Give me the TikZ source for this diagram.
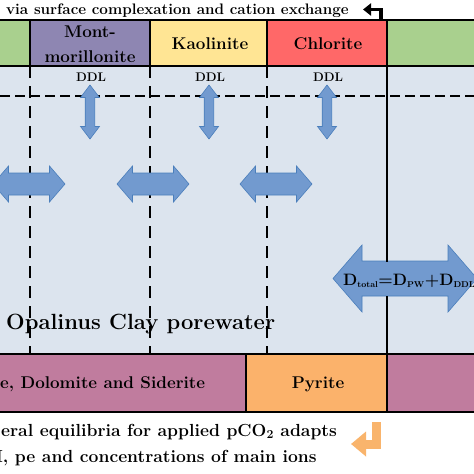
\documentclass[tikz,border=0pt]{standalone}
\usepackage{fontspec}
\usetikzlibrary{arrows.meta}
\definecolor{mgreen}{HTML}{A9D08E}
\definecolor{mpurple}{HTML}{8E86B2}
\definecolor{myellow}{HTML}{FFE594}
\definecolor{mred}{HTML}{FF6868}
\definecolor{bgblue}{HTML}{DCE4EE}
\definecolor{arrfill}{HTML}{729ACF}
\definecolor{arredge}{HTML}{4A7EBB}
\definecolor{mpink}{HTML}{C07C9E}
\definecolor{morange}{HTML}{FBB26B}
\definecolor{arrorange}{HTML}{F9B46C}
\newcommand\HDArrow[6]{% cx, cy, halflen, shafthalf, headhalf, headlen
  \filldraw[blarrow] ({#1-#3},#2) -- ({#1-#3+#6},{#2-#5}) -- ({#1-#3+#6},{#2-#4})
    -- ({#1+#3-#6},{#2-#4}) -- ({#1+#3-#6},{#2-#5}) -- ({#1+#3},#2)
    -- ({#1+#3-#6},{#2+#5}) -- ({#1+#3-#6},{#2+#4}) -- ({#1-#3+#6},{#2+#4})
    -- ({#1-#3+#6},{#2+#5}) -- cycle;}
\newcommand\VDArrow[6]{% cx, cy, halflen, shafthalf, headhalf, headlen
  \filldraw[blarrow] (#1,{#2-#3}) -- ({#1+#5},{#2-#3+#6}) -- ({#1+#4},{#2-#3+#6})
    -- ({#1+#4},{#2+#3-#6}) -- ({#1+#5},{#2+#3-#6}) -- (#1,{#2+#3})
    -- ({#1-#5},{#2+#3-#6}) -- ({#1-#4},{#2+#3-#6}) -- ({#1-#4},{#2-#3+#6})
    -- ({#1-#5},{#2-#3+#6}) -- cycle;}
\begin{document}
\begin{tikzpicture}[x=1pt,y=-1pt,
  box/.style={draw=black,line width=2pt},
  dashline/.style={draw=black,line width=2pt,dash pattern=on 10pt off 5pt},
  vdashline/.style={draw=black,line width=2pt,dash pattern=on 12pt off 8pt},
  solidline/.style={draw=black,line width=2pt},
  blarrow/.style={fill=arrfill,draw=arredge,line width=0.6pt},
  mineral/.style={font=\fontsize{17}{25}\selectfont\bfseries,inner sep=0pt,text=black,align=center},
  ddl/.style={font=\fontsize{12.5}{14}\selectfont\bfseries,inner sep=0pt},
  note/.style={font=\fontsize{17.5}{20}\selectfont\bfseries,inner sep=0pt},
  topnote/.style={font=\fontsize{15.2}{18}\selectfont\bfseries,inner sep=0pt},
  bignote/.style={font=\fontsize{22}{26}\selectfont\bfseries,inner sep=0pt},
  eqnote/.style={font=\fontsize{16.5}{18}\selectfont\bfseries,inner sep=0pt},
  blackbent/.style={draw=black,line width=3.5pt,line join=miter,-{Triangle[width=12pt,length=8pt]}},
  orangebent/.style={draw=arrorange,line width=9pt,line join=miter,-{Triangle[width=24pt,length=15pt]}}
]
\useasboundingbox (0,0) rectangle (474,474);
\clip (0,0) rectangle (474,474);
\fill[white] (0,0) rectangle (474,474);
% porewater area
\fill[bgblue] (0,66) rectangle (474,354);
% dashed lines
\coordinate (hl) at (0,96);
\coordinate (hr) at (474,96);
\draw[dashline] (hl) -- (hr);
\foreach \xx in {30,150,267}{
  \draw[vdashline] (\xx,66) -- (\xx,354);
}
% small horizontal arrows
\HDArrow{29}{184}{36}{11}{18}{15.5}
\HDArrow{153}{184}{36}{11}{18}{15.5}
\HDArrow{276}{184}{36}{11}{18}{15.5}
% small vertical arrows
\VDArrow{90}{112}{27}{4.8}{9.5}{12.5}
\VDArrow{209}{112}{27}{4.8}{9.5}{12.5}
\VDArrow{327}{112}{27}{4.8}{9.5}{12.5}
% big arrow
\HDArrow{405}{278.5}{72}{17.5}{33.5}{29}
% solid vertical line
\coordinate (s1) at (387,66);
\coordinate (s2) at (387,262);
\coordinate (s3) at (387,296);
\coordinate (s4) at (387,354);
\draw[solidline] (s1) -- (s2);
\draw[solidline] (s3) -- (s4);
% top mineral band
\draw[box,fill=mgreen] (-5,20) rectangle (30,66);
\draw[box,fill=mpurple] (30,20) rectangle (150,66);
\draw[box,fill=myellow] (150,20) rectangle (267,66);
\draw[box,fill=mred] (267,20) rectangle (387,66);
\draw[box,fill=mgreen] (387,20) rectangle (480,66);
% bottom mineral band
\draw[box,fill=mpink] (-5,354) rectangle (246,412);
\draw[box,fill=morange] (246,354) rectangle (387,412);
\draw[box,fill=mpink] (387,354) rectangle (480,412);
% labels
\node[mineral] (mont) at (90,44) {Mont-\\morillonite};
\node[mineral,anchor=base] (kao) at (210,49) {Kaolinite};
\node[mineral,anchor=base] (chl) at (328,49) {Chlorite};
\node[mineral,anchor=base west] (cds) at (0,388) {e, Dolomite and Siderite};
\node[mineral,anchor=base] (pyr) at (318,388) {Pyrite};
\node[ddl,anchor=base] (d1) at (91,81) {DDL};
\node[ddl,anchor=base] (d2) at (210,81) {DDL};
\node[ddl,anchor=base] (d3) at (328,81) {DDL};
\node[bignote,anchor=base west] (ocp) at (6,329) {Opalinus Clay porewater};
\node[eqnote,anchor=base west] (dtot) at (343,285)
  {D\textsubscript{\fontsize{8.5}{9}\selectfont total}=D\textsubscript{\fontsize{8.5}{9}\selectfont PW}+D\textsubscript{\fontsize{8.5}{9}\selectfont DDL}};
\node[topnote,anchor=base west] (top) at (6,14) {via surface complexation and cation exchange};
\node[note,anchor=base west] (bot1) at (1,436) {eral equilibria for applied pCO\textsubscript{2} adapts};
\node[note,anchor=base west] (bot2) at (-12.7,462) {H, pe and concentrations of main ions};
% bent arrows
\coordinate (bk1) at (381,21);
\coordinate (bk2) at (363,9.5);
\draw[blackbent] (bk1) |- (bk2);
\coordinate (or1) at (376.5,422);
\coordinate (or2) at (351,444);
\draw[orangebent] (or1) |- (or2);
\end{tikzpicture}
\end{document}
